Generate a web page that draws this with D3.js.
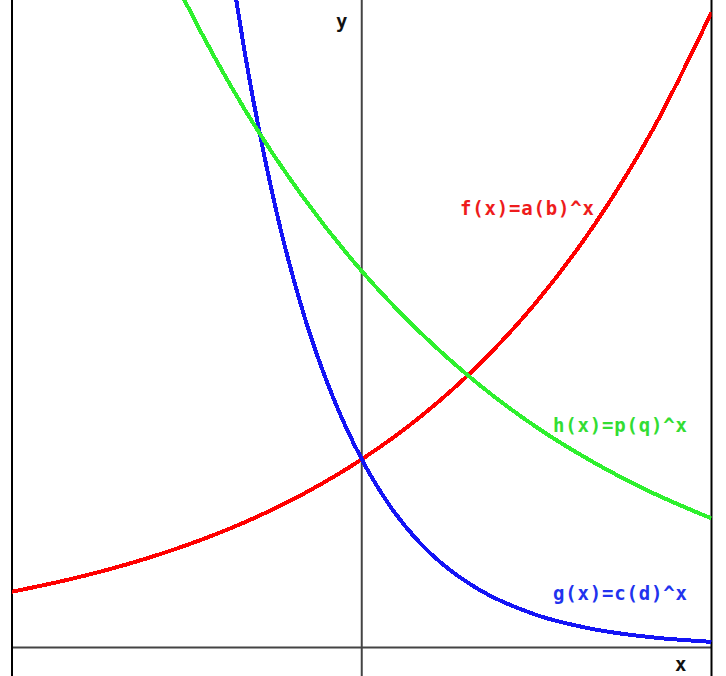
<!DOCTYPE html>
<html>
    <head>
        <meta charset="utf-8" />
        <script src="https://d3js.org/d3.v7.min.js"></script>
        <style>
            body { margin: 0; background: #fff; }
            text { font-family: "DejaVu Sans Mono", monospace; font-weight: bold; }
        </style>
    </head>
    <body>
        <div id="canvas"></div>

        <script type="text/javascript">
            var svgWidth = 726;
            var svgHeight = 676;

            // values
            var xRed = [-3, -2.5, -2, -1.5, -1, -0.5, 0, 0.5, 1, 1.5, 2, 2.5, 3];
            var fVals = [0.593, 0.726, 0.889, 1.089, 1.333, 1.633, 2, 2.449, 3, 3.674, 4.5, 5.511, 6.75];

            var xBlue = [-1.5, -1.25, -1, -0.75, -0.5, -0.25, 0, 0.25, 0.5, 0.75, 1, 1.5, 2, 2.5, 3];
            var gVals = [11.2, 8.4, 6.3, 4.73, 3.55, 2.67, 2, 1.49, 1.11, 0.83, 0.62, 0.345, 0.192, 0.107, 0.06];

            var xGreen = [-2, -1.5, -1, -0.5, 0, 0.5, 1, 1.5, 2, 2.5, 3];
            var hVals = [8.16, 6.83, 5.71, 4.78, 4, 3.35, 2.8, 2.34, 1.96, 1.64, 1.372];

            var series = [
                {name: "f(x)=a(b)^x", xs: xRed, ys: fVals, color: "#ff0000", text: "#ee1c1c", lx: 460, ly: 215},
                {name: "g(x)=c(d)^x", xs: xBlue, ys: gVals, color: "#1414f5", text: "#2233ee", lx: 553, ly: 600},
                {name: "h(x)=p(q)^x", xs: xGreen, ys: hVals, color: "#2ef02e", text: "#33dd33", lx: 553, ly: 432}
            ];

            var left = 12, right = 711.5, axisY = 647.5;

            var x = d3.scaleLinear().domain([-3, 3]).range([left, right]);
            var y = d3.scaleLinear().domain([0, 7]).range([axisY, axisY - 7 * 94.1]);

            var svg = d3.select("#canvas")
                        .append("svg")
                        .attr("width", svgWidth)
                        .attr("height", svgHeight);

            svg.append("clipPath").attr("id", "plot")
                .append("rect")
                .attr("x", left).attr("y", 0)
                .attr("width", right - left).attr("height", axisY);

            // axes
            svg.append("line")
                .attr("x1", x(0)).attr("x2", x(0))
                .attr("y1", 0).attr("y2", svgHeight)
                .attr("stroke", "#444").attr("stroke-width", 2);
            svg.append("line")
                .attr("x1", left).attr("x2", right)
                .attr("y1", y(0)).attr("y2", y(0))
                .attr("stroke", "#444").attr("stroke-width", 2);

            // frame sides
            [left, right].forEach(function(px){
                svg.append("line")
                    .attr("x1", px).attr("x2", px)
                    .attr("y1", 0).attr("y2", svgHeight)
                    .attr("stroke", "#000").attr("stroke-width", 2);
            });

            var line = d3.line()
                .x(function(d){ return x(d[0]); })
                .y(function(d){ return y(d[1]); })
                .curve(d3.curveMonotoneX);

            svg.append("g").attr("clip-path", "url(#plot)")
                .selectAll("path")
                .data(series)
                .enter()
                .append("path")
                .attr("d", function(s){
                    return line(s.xs.map(function(v, i){ return [v, s.ys[i]]; }));
                })
                .attr("fill", "none")
                .attr("stroke", function(s){ return s.color; })
                .attr("stroke-width", 4)
                .attr("shape-rendering", "crispEdges");

            // labels
            svg.selectAll(".lbl")
                .data(series)
                .enter()
                .append("text")
                .attr("class", "lbl")
                .attr("x", function(s){ return s.lx; })
                .attr("y", function(s){ return s.ly; })
                .attr("font-size", "19px")
                .attr("textLength", 134)
                .attr("lengthAdjust", "spacing")
                .style("fill", function(s){ return s.text; })
                .text(function(s){ return s.name; });

            svg.append("text")
                .attr("x", 336).attr("y", 28)
                .attr("font-size", "19px")
                .style("fill", "#111")
                .text("y");
            svg.append("text")
                .attr("x", 675).attr("y", 671)
                .attr("font-size", "19px")
                .style("fill", "#111")
                .text("x");
        </script>
    </body>
</html>
